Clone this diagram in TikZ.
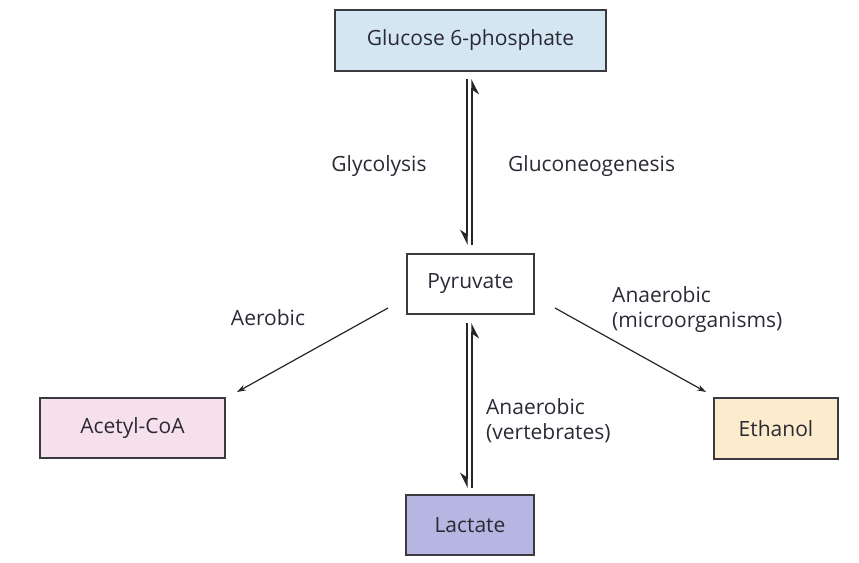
\documentclass[tikz,border=0pt]{standalone}
\usepackage{fontspec}
\setmainfont{Open Sans}
\usetikzlibrary{arrows.meta}
\definecolor{txt}{HTML}{2A2A35}
\definecolor{bord}{HTML}{3A3A40}
\definecolor{cgluc}{HTML}{D4E6F2}
\definecolor{cacet}{HTML}{F6E0EC}
\definecolor{ceth}{HTML}{FCEBCC}
\definecolor{clac}{HTML}{B7B6E2}
\begin{document}
\begin{tikzpicture}[x=1pt,y=-1pt,
  box/.style={draw=bord,line width=1.8pt,inner sep=0pt,text=txt,font=\fontsize{21}{25}\selectfont},
  lbl/.style={text=txt,font=\fontsize{21}{25}\selectfont,inner sep=0pt},
  harp/.style={line width=1.3pt,draw=black!85,-{Stealth[harpoon,swap,length=14pt,width=14pt]}},
  plain/.style={line width=1.2pt,draw=black!85,-{Stealth[length=9pt,width=6pt]}}]
\useasboundingbox (0,0) rectangle (859,562);
\node[box,fill=cgluc,minimum width=271pt,minimum height=61pt] (g) at (470.5,40.5) {Glucose 6-phosphate};
\node[box,fill=white,minimum width=127pt,minimum height=60pt] (p) at (470.5,284) {Pyruvate};
\node[box,fill=cacet,minimum width=185pt,minimum height=60pt] (a) at (132.5,428) {Acetyl-CoA};
\node[box,fill=ceth,minimum width=124pt,minimum height=61pt] (e) at (776,428.5) {Ethanol};
\node[box,fill=clac,minimum width=128pt,minimum height=60pt] (l) at (470,525) {Lactate};
% coordinates for arrows
\coordinate (g1) at (467,79);
\coordinate (p1) at (467,245);
\coordinate (g2) at (472,79);
\coordinate (p2) at (472,245);
\coordinate (p3) at (467,323);
\coordinate (l3) at (467,488);
\coordinate (p4) at (472,323);
\coordinate (l4) at (472,488);
\coordinate (pa) at (388,308);
\coordinate (aa) at (237,392);
\coordinate (pe) at (555,308);
\coordinate (ee) at (706,392);
\draw[harp] (g1) -- (p1);
\draw[harp] (p2) -- (g2);
\draw[harp] (p3) -- (l3);
\draw[harp] (l4) -- (p4);
\draw[plain] (pa) -- (aa);
\draw[plain] (pe) -- (ee);
\node[lbl] (t1) at (379,166) {Glycolysis};
\node[lbl,anchor=west] (t2) at (508,166) {Gluconeogenesis};
\node[lbl] (t3) at (268,318) {Aerobic};
\node[lbl,anchor=west,align=left] (t4) at (612,310) {Anaerobic\\(microorganisms)};
\node[lbl,anchor=west,align=left] (t5) at (486,421) {Anaerobic\\(vertebrates)};
\end{tikzpicture}
\end{document}
